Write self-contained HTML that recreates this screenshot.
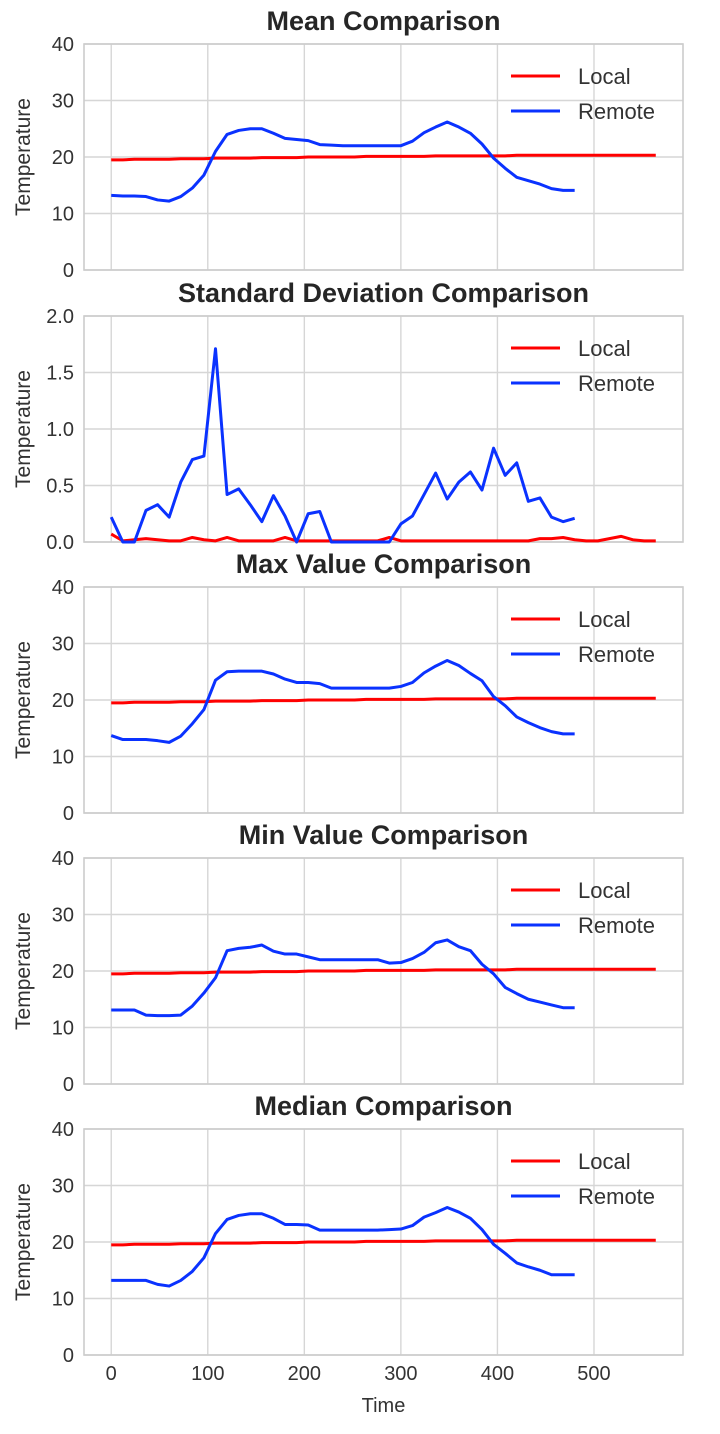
<!DOCTYPE html>
<html><head><meta charset="utf-8"><style>
html,body{margin:0;padding:0;background:#fff;width:720px;height:1434px;overflow:hidden}
svg{display:block;font-family:"Liberation Sans",sans-serif}
</style></head><body>
<svg id="chart" width="720" height="1434"></svg>
<script>
const localTimes = Array.from({length:48},(_,i)=>i*12);
const remoteTimes = Array.from({length:41},(_,i)=>i*12);
const xTicks = [0,100,200,300,400,500];
const titles = ["Mean Comparison","Standard Deviation Comparison","Max Value Comparison","Min Value Comparison","Median Comparison"];
const yTicksTemp = [0,10,20,30,40];
const yTicksStd = [0.0,0.5,1.0,1.5,2.0];
const localMean = [19.5,19.5,19.6,19.6,19.6,19.6,19.7,19.7,19.7,19.8,19.8,19.8,19.8,19.9,19.9,19.9,19.9,20.0,20.0,20.0,20.0,20.0,20.1,20.1,20.1,20.1,20.1,20.1,20.2,20.2,20.2,20.2,20.2,20.2,20.2,20.3,20.3,20.3,20.3,20.3,20.3,20.3,20.3,20.3,20.3,20.3,20.3,20.3];
const localStd = [0.07,0.01,0.02,0.03,0.02,0.01,0.01,0.04,0.02,0.01,0.04,0.01,0.01,0.01,0.01,0.04,0.01,0.01,0.01,0.01,0.01,0.01,0.01,0.01,0.04,0.01,0.01,0.01,0.01,0.01,0.01,0.01,0.01,0.01,0.01,0.01,0.01,0.03,0.03,0.04,0.02,0.01,0.01,0.03,0.05,0.02,0.01,0.01];
const remoteMean = [13.2,13.1,13.1,13.0,12.4,12.2,13.0,14.5,16.8,21.0,24.0,24.7,25.0,25.0,24.2,23.3,23.1,22.9,22.2,22.1,22.0,22.0,22.0,22.0,22.0,22.0,22.8,24.3,25.3,26.2,25.3,24.2,22.3,19.8,18.0,16.4,15.8,15.2,14.4,14.1,14.1];
const remoteStd = [0.22,0,0,0.28,0.33,0.22,0.53,0.73,0.76,1.71,0.42,0.47,0.33,0.18,0.41,0.23,0,0.25,0.27,0,0,0,0,0,0,0.16,0.23,0.42,0.61,0.38,0.53,0.62,0.46,0.83,0.59,0.70,0.36,0.39,0.22,0.18,0.21];
const remoteMax = [13.7,13.0,13.0,13.0,12.8,12.5,13.6,15.8,18.3,23.5,25.0,25.1,25.1,25.1,24.6,23.7,23.1,23.1,22.9,22.1,22.1,22.1,22.1,22.1,22.1,22.4,23.1,24.8,26.0,27.0,26.1,24.7,23.4,20.6,19.0,17.0,16.0,15.1,14.4,14.0,14.0];
const remoteMin = [13.1,13.1,13.1,12.2,12.1,12.1,12.2,13.8,16.1,18.8,23.6,24.0,24.2,24.6,23.5,23.0,23.0,22.5,22.0,22.0,22.0,22.0,22.0,22.0,21.4,21.5,22.2,23.3,25.0,25.5,24.3,23.6,21.2,19.5,17.1,16.0,15.0,14.5,14.0,13.5,13.5];
const remoteMedian = [13.2,13.2,13.2,13.2,12.5,12.2,13.2,14.8,17.2,21.5,24.0,24.7,25.0,25.0,24.2,23.1,23.1,23.0,22.1,22.1,22.1,22.1,22.1,22.1,22.2,22.3,22.9,24.4,25.2,26.1,25.3,24.2,22.2,19.6,18.0,16.3,15.6,15.0,14.2,14.2,14.2];
const localMax = localMean.map(v=>v);
const localMin = localMean.map(v=>v);
const localMedian = localMean.map(v=>v);

const svg=document.getElementById('chart');
const NS='http://www.w3.org/2000/svg';
function mk(tag,attrs,parent){const e=document.createElementNS(NS,tag);for(const k in attrs)e.setAttribute(k,attrs[k]);(parent||svg).appendChild(e);return e;}
const L=84,R=683,H=226;
const tops=[44,316,587,858,1129];
const xMin=-28.2,xMax=592.2;
const xs=v=>L+(v-xMin)/(xMax-xMin)*(R-L);
const panels=[
 {loc:localMean,rem:remoteMean,ticks:yTicksTemp,max:40,fmt:v=>String(v)},
 {loc:localStd,rem:remoteStd,ticks:yTicksStd,max:2,fmt:v=>v.toFixed(1)},
 {loc:localMax,rem:remoteMax,ticks:yTicksTemp,max:40,fmt:v=>String(v)},
 {loc:localMin,rem:remoteMin,ticks:yTicksTemp,max:40,fmt:v=>String(v)},
 {loc:localMedian,rem:remoteMedian,ticks:yTicksTemp,max:40,fmt:v=>String(v)}];
panels.forEach((p,i)=>{
 const T=tops[i],B=T+H;
 const ys=v=>B-v/p.max*H;
 const g=mk('g',{});
 
 
 mk('rect',{x:L,y:T,width:R-L,height:H,fill:'#fff'},g);
 xTicks.forEach(t=>{mk('line',{x1:xs(t),x2:xs(t),y1:T,y2:B,stroke:'#d6d6d6','stroke-width':1.4},g);});
 p.ticks.forEach(t=>{
  mk('line',{x1:L,x2:R,y1:ys(t),y2:ys(t),stroke:'#d6d6d6','stroke-width':1.4},g);
  const tx=mk('text',{x:L-10,y:ys(t)+7,'text-anchor':'end','font-size':20,fill:'#333'},g);
  tx.textContent=p.fmt(t);
  
  
 });
 mk('rect',{x:L,y:T,width:R-L,height:H,fill:'none',stroke:'#cccccc','stroke-width':1.6},g);
 const ti=mk('text',{x:(L+R)/2,y:T-14,'text-anchor':'middle','font-size':27,'font-weight':'bold',fill:'#262626'},g);
 ti.textContent=titles[i];
 
 
 const yl=mk('text',{x:0,y:0,transform:`translate(30,${T+H/2}) rotate(-90)`,'text-anchor':'middle','font-size':21,fill:'#333'},g);
 yl.textContent='Temperature';
 
 
 const lp=mk('polyline',{points:p.loc.map((v,k)=>xs(localTimes[k])+','+ys(v)).join(' '),fill:'none',stroke:'#ff0000','stroke-width':3,'stroke-linejoin':'round'},g);
 
 
 const rp=mk('polyline',{points:p.rem.map((v,k)=>xs(remoteTimes[k])+','+ys(v)).join(' '),fill:'none',stroke:'#0a32ff','stroke-width':3,'stroke-linejoin':'round'},g);
 
 
 [['Local','#ff0000',32],['Remote','#0a32ff',67]].forEach(([n,c,dy])=>{
  const lg=mk('g',{},g);
  
  
  mk('line',{x1:511,x2:560,y1:T+dy,y2:T+dy,stroke:c,'stroke-width':3},lg);
  const t=mk('text',{x:578,y:T+dy+8,'font-size':22,fill:'#333'},lg);
  t.textContent=n;
 });
 if(i===4){
  xTicks.forEach(t=>{
   const tx=mk('text',{x:xs(t),y:B+25,'text-anchor':'middle','font-size':20,fill:'#333'},g);
   tx.textContent=String(t);
   
   
  });
  const xl=mk('text',{x:(L+R)/2,y:B+57,'text-anchor':'middle','font-size':20,fill:'#333'},g);
  xl.textContent='Time';
  
  
 }
});
</script>
</body></html>
